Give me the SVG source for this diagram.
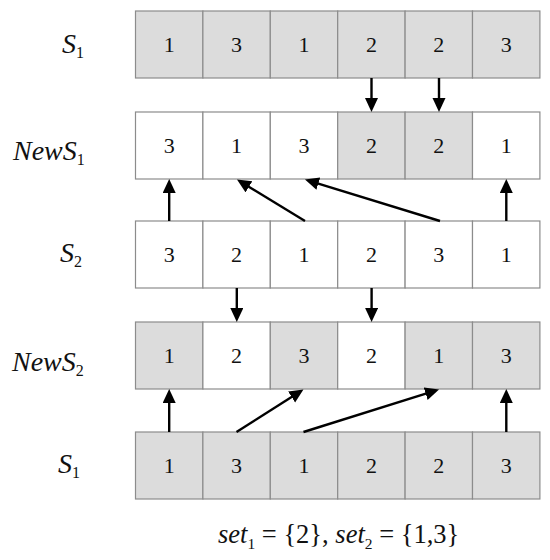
<svg xmlns="http://www.w3.org/2000/svg" width="550" height="560" viewBox="0 0 550 560">
<style>
.c{stroke:#8c8c8c;stroke-width:1.2}
.g{fill:#dcdcdc}
.w{fill:#ffffff}
.n{font-size:22px;text-anchor:middle;fill:#111}
.lb{font-size:28px;font-style:italic;fill:#111}
.sb{font-size:16px;font-style:normal}
.cap{font-size:26.5px;fill:#111}
.a{stroke:#000;stroke-width:2.4;fill:none;marker-end:url(#ah)}
</style>
<defs>
<marker id="ah" markerUnits="userSpaceOnUse" markerWidth="16" markerHeight="16" refX="6" refY="6.5" orient="auto">
<path d="M0,0 L14,6.5 L0,13 z" fill="#000"/>
</marker>
</defs>
<rect width="550" height="560" fill="#fff"/>
<g font-family="Liberation Serif, Times New Roman, serif">
<g id="row1">
<rect class="c g" x="135.5" y="11" width="67.4" height="67"/>
<rect class="c g" x="202.9" y="11" width="67.4" height="67"/>
<rect class="c g" x="270.3" y="11" width="67.4" height="67"/>
<rect class="c g" x="337.7" y="11" width="67.4" height="67"/>
<rect class="c g" x="405.1" y="11" width="67.4" height="67"/>
<rect class="c g" x="472.5" y="11" width="67.4" height="67"/>
<text class="n" x="169.2" y="52">1</text>
<text class="n" x="236.6" y="52">3</text>
<text class="n" x="304" y="52">1</text>
<text class="n" x="371.4" y="52">2</text>
<text class="n" x="438.8" y="52">2</text>
<text class="n" x="506.2" y="52">3</text>
<text class="lb" x="62" y="53">S<tspan class="sb" dy="5">1</tspan></text>
</g>

<g id="row2">
<rect class="c w" x="135.5" y="112" width="67.4" height="67"/>
<rect class="c w" x="202.9" y="112" width="67.4" height="67"/>
<rect class="c w" x="270.3" y="112" width="67.4" height="67"/>
<rect class="c g" x="337.7" y="112" width="67.4" height="67"/>
<rect class="c g" x="405.1" y="112" width="67.4" height="67"/>
<rect class="c w" x="472.5" y="112" width="67.4" height="67"/>
<text class="n" x="169.2" y="153">3</text>
<text class="n" x="236.6" y="153">1</text>
<text class="n" x="304" y="153">3</text>
<text class="n" x="371.4" y="153">2</text>
<text class="n" x="438.8" y="153">2</text>
<text class="n" x="506.2" y="153">1</text>
<text class="lb" x="13" y="160">NewS<tspan class="sb" dy="5">1</tspan></text>
</g>

<g id="row3">
<rect class="c w" x="135.5" y="221" width="67.4" height="67"/>
<rect class="c w" x="202.9" y="221" width="67.4" height="67"/>
<rect class="c w" x="270.3" y="221" width="67.4" height="67"/>
<rect class="c w" x="337.7" y="221" width="67.4" height="67"/>
<rect class="c w" x="405.1" y="221" width="67.4" height="67"/>
<rect class="c w" x="472.5" y="221" width="67.4" height="67"/>
<text class="n" x="169.2" y="262">3</text>
<text class="n" x="236.6" y="262">2</text>
<text class="n" x="304" y="262">1</text>
<text class="n" x="371.4" y="262">2</text>
<text class="n" x="438.8" y="262">3</text>
<text class="n" x="506.2" y="262">1</text>
<text class="lb" x="60" y="262">S<tspan class="sb" dy="5">2</tspan></text>
</g>

<g id="row4">
<rect class="c g" x="135.5" y="322" width="67.4" height="67"/>
<rect class="c w" x="202.9" y="322" width="67.4" height="67"/>
<rect class="c g" x="270.3" y="322" width="67.4" height="67"/>
<rect class="c w" x="337.7" y="322" width="67.4" height="67"/>
<rect class="c g" x="405.1" y="322" width="67.4" height="67"/>
<rect class="c g" x="472.5" y="322" width="67.4" height="67"/>
<text class="n" x="169.2" y="363">1</text>
<text class="n" x="236.6" y="363">2</text>
<text class="n" x="304" y="363">3</text>
<text class="n" x="371.4" y="363">2</text>
<text class="n" x="438.8" y="363">1</text>
<text class="n" x="506.2" y="363">3</text>
<text class="lb" x="12" y="371">NewS<tspan class="sb" dy="5">2</tspan></text>
</g>

<g id="row5">
<rect class="c g" x="135.5" y="432" width="67.4" height="67"/>
<rect class="c g" x="202.9" y="432" width="67.4" height="67"/>
<rect class="c g" x="270.3" y="432" width="67.4" height="67"/>
<rect class="c g" x="337.7" y="432" width="67.4" height="67"/>
<rect class="c g" x="405.1" y="432" width="67.4" height="67"/>
<rect class="c g" x="472.5" y="432" width="67.4" height="67"/>
<text class="n" x="169.2" y="473">1</text>
<text class="n" x="236.6" y="473">3</text>
<text class="n" x="304" y="473">1</text>
<text class="n" x="371.4" y="473">2</text>
<text class="n" x="438.8" y="473">2</text>
<text class="n" x="506.2" y="473">3</text>
<text class="lb" x="58" y="473">S<tspan class="sb" dy="5">1</tspan></text>
</g>

<text id="caption" class="cap" x="218" y="543"><tspan font-style="italic">set</tspan><tspan font-size="15.5" dy="6">1</tspan><tspan dy="-6"> = {2}, </tspan><tspan font-style="italic">set</tspan><tspan font-size="15.5" dy="6">2</tspan><tspan dy="-6"> = {1,3}</tspan></text>
</g>

<g id="connectors">
<line class="a" x1="371.5" y1="78" x2="371.5" y2="104"/>
<line class="a" x1="439" y1="78" x2="439" y2="104"/>
<line class="a" x1="169.2" y1="221" x2="169.2" y2="187"/>
<line class="a" x1="506.3" y1="221" x2="506.3" y2="187"/>
<line class="a" x1="305" y1="221" x2="243.8" y2="183.7"/>
<line class="a" x1="440" y1="221" x2="312.6" y2="181.9"/>
<line class="a" x1="236.8" y1="288" x2="236.8" y2="314"/>
<line class="a" x1="371.6" y1="288" x2="371.6" y2="314"/>
<line class="a" x1="169.2" y1="432" x2="169.2" y2="397"/>
<line class="a" x1="506.3" y1="432" x2="506.3" y2="397"/>
<line class="a" x1="236.5" y1="432" x2="296.7" y2="393.8"/>
<line class="a" x1="303.5" y1="432" x2="431.4" y2="391.9"/>
</g>
</svg>
